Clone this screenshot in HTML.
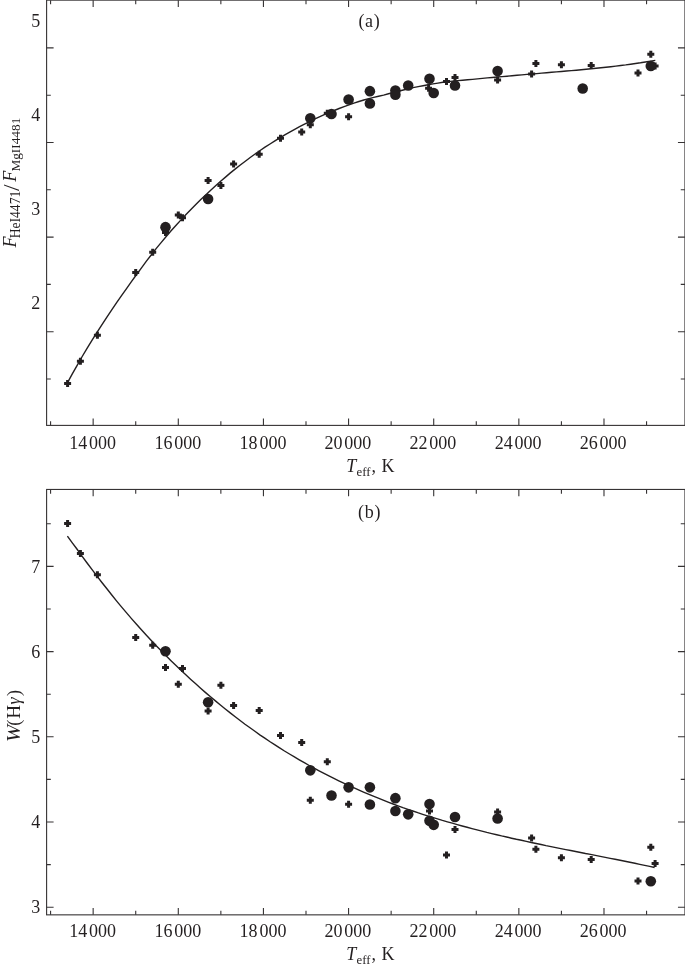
<!DOCTYPE html>
<html lang="en"><head><meta charset="utf-8"><title>Figure</title>
<style>html,body{margin:0;padding:0;background:#fff}svg{display:block}text{font-family:"Liberation Serif","Times New Roman",serif;font-size:18px;fill:#231f20}</style></head><body>
<svg width="685" height="970" viewBox="0 0 685 970">
<rect width="685" height="970" fill="#fff"/>
<rect x="46.6" y="0.15" width="638.35" height="425.25" fill="none" stroke="#363334" stroke-width="1.1"/>
<path d="M50.58,0.15v4.2M50.58,425.4v-4.2M93.15,0.15v6.8M93.15,425.4v-6.8M135.72,0.15v4.2M135.72,425.4v-4.2M178.29,0.15v6.8M178.29,425.4v-6.8M220.86,0.15v4.2M220.86,425.4v-4.2M263.43,0.15v6.8M263.43,425.4v-6.8M306.00,0.15v4.2M306.00,425.4v-4.2M348.57,0.15v6.8M348.57,425.4v-6.8M391.14,0.15v4.2M391.14,425.4v-4.2M433.71,0.15v6.8M433.71,425.4v-6.8M476.28,0.15v4.2M476.28,425.4v-4.2M518.85,0.15v6.8M518.85,425.4v-6.8M561.42,0.15v4.2M561.42,425.4v-4.2M603.99,0.15v6.8M603.99,425.4v-6.8M646.56,0.15v4.2M646.56,425.4v-4.2M46.6,47.90h7M684.95,47.90h-7M46.6,95.20h4.2M684.95,95.20h-4.2M46.6,142.50h7M684.95,142.50h-7M46.6,189.80h4.2M684.95,189.80h-4.2M46.6,237.10h7M684.95,237.10h-7M46.6,284.40h4.2M684.95,284.40h-4.2M46.6,331.70h7M684.95,331.70h-7M46.6,379.00h4.2M684.95,379.00h-4.2" fill="none" stroke="#363334" stroke-width="1.1"/>
<path d="M67.4,382.8 L72.3,373.8 L77.3,365.1 L82.2,356.5 L87.2,348.2 L92.1,340.2 L97.0,332.4 L102.0,324.7 L106.9,317.1 L111.9,309.7 L116.8,302.4 L121.7,295.3 L126.7,288.3 L131.6,281.4 L136.6,274.5 L141.5,267.8 L146.4,261.2 L151.4,254.7 L156.3,248.4 L161.3,242.4 L166.2,236.5 L171.1,230.8 L176.1,225.3 L181.0,219.9 L186.0,214.6 L190.9,209.5 L195.8,204.5 L200.8,199.6 L205.7,194.9 L210.7,190.2 L215.6,185.7 L220.6,181.3 L225.5,177.1 L230.4,172.9 L235.4,168.9 L240.3,165.0 L245.3,161.2 L250.2,157.5 L255.1,154.0 L260.1,150.5 L265.0,147.2 L270.0,144.0 L274.9,140.9 L279.8,137.8 L284.8,134.9 L289.7,132.1 L294.7,129.3 L299.6,126.7 L304.5,124.1 L309.5,121.6 L314.4,119.2 L319.4,116.9 L324.3,114.7 L329.2,112.5 L334.2,110.5 L339.1,108.5 L344.1,106.7 L349.0,104.9 L353.9,103.1 L358.9,101.5 L363.8,100.0 L368.8,98.6 L373.7,97.4 L378.6,96.3 L383.6,95.1 L388.5,93.8 L393.5,92.5 L398.4,91.2 L403.3,90.0 L408.3,88.8 L413.2,87.6 L418.2,86.6 L423.1,85.7 L428.0,84.8 L433.0,83.9 L437.9,83.1 L442.9,82.3 L447.8,81.6 L452.7,81.1 L457.7,80.6 L462.6,80.2 L467.6,79.8 L472.5,79.4 L477.4,78.9 L482.4,78.4 L487.3,77.9 L492.3,77.5 L497.2,77.0 L502.1,76.6 L507.1,76.2 L512.0,75.7 L517.0,75.3 L521.9,74.9 L526.9,74.4 L531.8,74.0 L536.7,73.6 L541.7,73.1 L546.6,72.7 L551.6,72.3 L556.5,71.9 L561.4,71.5 L566.4,71.0 L571.3,70.6 L576.3,70.2 L581.2,69.7 L586.1,69.3 L591.1,68.8 L596.0,68.3 L601.0,67.8 L605.9,67.3 L610.8,66.7 L615.8,66.1 L620.7,65.5 L625.7,64.9 L630.6,64.2 L635.5,63.5 L640.5,62.8 L645.4,62.0 L650.4,61.2 L655.3,60.4" fill="none" stroke="#231f20" stroke-width="1.4"/>
<path d="M64.1,382.0h2v-2h3v2h2v3h-2v2h-3v-2h-2zM76.9,359.7h2v-2h3v2h2v3h-2v2h-3v-2h-2zM93.9,333.8h2v-2h3v2h2v3h-2v2h-3v-2h-2zM132.2,270.9h2v-2h3v2h2v3h-2v2h-3v-2h-2zM149.2,250.7h2v-2h3v2h2v3h-2v2h-3v-2h-2zM162.0,231.0h2v-2h3v2h2v3h-2v2h-3v-2h-2zM174.8,213.5h2v-2h3v2h2v3h-2v2h-3v-2h-2zM179.0,216.2h2v-2h3v2h2v3h-2v2h-3v-2h-2zM204.6,178.9h2v-2h3v2h2v3h-2v2h-3v-2h-2zM217.4,184.1h2v-2h3v2h2v3h-2v2h-3v-2h-2zM230.1,162.4h2v-2h3v2h2v3h-2v2h-3v-2h-2zM255.7,152.7h2v-2h3v2h2v3h-2v2h-3v-2h-2zM277.0,136.8h2v-2h3v2h2v3h-2v2h-3v-2h-2zM298.2,130.6h2v-2h3v2h2v3h-2v2h-3v-2h-2zM306.8,123.2h2v-2h3v2h2v3h-2v2h-3v-2h-2zM323.8,111.8h2v-2h3v2h2v3h-2v2h-3v-2h-2zM345.1,115.2h2v-2h3v2h2v3h-2v2h-3v-2h-2zM425.1,86.7h2v-2h3v2h2v3h-2v2h-3v-2h-2zM443.0,80.0h2v-2h3v2h2v3h-2v2h-3v-2h-2zM451.5,75.9h2v-2h3v2h2v3h-2v2h-3v-2h-2zM494.1,78.6h2v-2h3v2h2v3h-2v2h-3v-2h-2zM528.1,72.5h2v-2h3v2h2v3h-2v2h-3v-2h-2zM532.4,62.1h2v-2h3v2h2v3h-2v2h-3v-2h-2zM557.9,63.2h2v-2h3v2h2v3h-2v2h-3v-2h-2zM587.7,64.0h2v-2h3v2h2v3h-2v2h-3v-2h-2zM634.5,71.6h2v-2h3v2h2v3h-2v2h-3v-2h-2zM647.3,52.8h2v-2h3v2h2v3h-2v2h-3v-2h-2zM651.6,64.4h2v-2h3v2h2v3h-2v2h-3v-2h-2z" fill="#231f20"/>
<circle cx="165.5" cy="227.15" r="5.3" fill="#231f20"/>
<circle cx="208.1" cy="199.05" r="5.3" fill="#231f20"/>
<circle cx="310.3" cy="118.35" r="5.3" fill="#231f20"/>
<circle cx="331.5" cy="114.05" r="5.3" fill="#231f20"/>
<circle cx="348.6" cy="99.45" r="5.3" fill="#231f20"/>
<circle cx="369.9" cy="91.15" r="5.3" fill="#231f20"/>
<circle cx="369.9" cy="103.45" r="5.3" fill="#231f20"/>
<circle cx="395.4" cy="90.55" r="5.3" fill="#231f20"/>
<circle cx="395.4" cy="94.65" r="5.3" fill="#231f20"/>
<circle cx="408.2" cy="85.45" r="5.3" fill="#231f20"/>
<circle cx="429.5" cy="78.75" r="5.3" fill="#231f20"/>
<circle cx="433.7" cy="92.95" r="5.3" fill="#231f20"/>
<circle cx="455.0" cy="85.45" r="5.3" fill="#231f20"/>
<circle cx="497.6" cy="71.05" r="5.3" fill="#231f20"/>
<circle cx="582.7" cy="88.45" r="5.3" fill="#231f20"/>
<circle cx="650.8" cy="66.05" r="5.3" fill="#231f20"/>
<text x="40.3" y="26.6" text-anchor="end">5</text>
<text x="40.3" y="120.7" text-anchor="end">4</text>
<text x="40.3" y="214.7" text-anchor="end">3</text>
<text x="40.3" y="309.1" text-anchor="end">2</text>
<text x="92.7" y="449.3" text-anchor="middle">14<tspan dx="1.8">000</tspan></text>
<text x="177.8" y="449.3" text-anchor="middle">16<tspan dx="1.8">000</tspan></text>
<text x="263.0" y="449.3" text-anchor="middle">18<tspan dx="1.8">000</tspan></text>
<text x="347.8" y="449.3" text-anchor="middle">20<tspan dx="1.8">000</tspan></text>
<text x="432.9" y="449.3" text-anchor="middle">22<tspan dx="1.8">000</tspan></text>
<text x="518.1" y="449.3" text-anchor="middle">24<tspan dx="1.8">000</tspan></text>
<text x="603.2" y="449.3" text-anchor="middle">26<tspan dx="1.8">000</tspan></text>
<text x="346.3" y="472.0"><tspan font-style="italic">T</tspan><tspan font-size="12.8" dy="4" dx="0.3">eff</tspan><tspan dy="-4" dx="0.9">,</tspan><tspan dx="5.4">K</tspan></text>
<text x="369.5" y="26.6" text-anchor="middle" letter-spacing="0.75">(a)</text>
<text transform="translate(15.8,247.5) rotate(-90)"><tspan font-style="italic" x="0" y="0">F</tspan><tspan font-size="13.6" x="9.2" y="4">HeI4471</tspan><tspan font-size="23.5" x="56.6" y="3.5">/</tspan><tspan font-style="italic" x="65.7" y="0">F</tspan><tspan font-size="13.3" x="75.9" y="4">MgII4481</tspan></text>
<rect x="46.6" y="489.45" width="638.35" height="425.40000000000003" fill="none" stroke="#363334" stroke-width="1.1"/>
<path d="M50.58,489.45v4.2M50.58,914.85v-4.2M93.15,489.45v6.8M93.15,914.85v-6.8M135.72,489.45v4.2M135.72,914.85v-4.2M178.29,489.45v6.8M178.29,914.85v-6.8M220.86,489.45v4.2M220.86,914.85v-4.2M263.43,489.45v6.8M263.43,914.85v-6.8M306.00,489.45v4.2M306.00,914.85v-4.2M348.57,489.45v6.8M348.57,914.85v-6.8M391.14,489.45v4.2M391.14,914.85v-4.2M433.71,489.45v6.8M433.71,914.85v-6.8M476.28,489.45v4.2M476.28,914.85v-4.2M518.85,489.45v6.8M518.85,914.85v-6.8M561.42,489.45v4.2M561.42,914.85v-4.2M603.99,489.45v6.8M603.99,914.85v-6.8M646.56,489.45v4.2M646.56,914.85v-4.2M46.6,907.20h7M684.95,907.20h-7M46.6,864.60h4.2M684.95,864.60h-4.2M46.6,822.00h7M684.95,822.00h-7M46.6,779.40h4.2M684.95,779.40h-4.2M46.6,736.80h7M684.95,736.80h-7M46.6,694.20h4.2M684.95,694.20h-4.2M46.6,651.60h7M684.95,651.60h-7M46.6,609.00h4.2M684.95,609.00h-4.2M46.6,566.40h7M684.95,566.40h-7M46.6,523.80h4.2M684.95,523.80h-4.2" fill="none" stroke="#363334" stroke-width="1.1"/>
<path d="M67.4,536.1 L72.3,542.8 L77.3,549.5 L82.2,556.3 L87.1,563.0 L92.1,569.6 L97.0,576.1 L101.9,582.5 L106.9,588.8 L111.8,595.0 L116.7,601.1 L121.7,607.1 L126.6,612.9 L131.5,618.6 L136.5,624.3 L141.4,629.8 L146.4,635.2 L151.3,640.5 L156.2,645.7 L161.2,650.8 L166.1,655.8 L171.0,660.7 L176.0,665.5 L180.9,670.2 L185.8,674.8 L190.8,679.4 L195.7,683.8 L200.6,688.2 L205.6,692.6 L210.5,696.8 L215.4,700.9 L220.4,705.0 L225.3,709.0 L230.2,712.9 L235.2,716.8 L240.1,720.5 L245.0,724.2 L250.0,727.8 L254.9,731.3 L259.8,734.8 L264.8,738.1 L269.7,741.5 L274.6,744.7 L279.6,747.9 L284.5,751.0 L289.5,754.0 L294.4,756.9 L299.3,759.8 L304.3,762.7 L309.2,765.5 L314.1,768.2 L319.1,770.8 L324.0,773.4 L328.9,775.9 L333.9,778.4 L338.8,780.8 L343.7,783.2 L348.7,785.5 L353.6,787.7 L358.5,789.9 L363.5,792.1 L368.4,794.2 L373.3,796.2 L378.3,798.2 L383.2,800.2 L388.1,802.1 L393.1,804.0 L398.0,805.8 L402.9,807.6 L407.9,809.3 L412.8,811.0 L417.7,812.7 L422.7,814.3 L427.6,815.9 L432.5,817.4 L437.5,818.9 L442.4,820.4 L447.4,821.8 L452.3,823.2 L457.2,824.6 L462.2,826.0 L467.1,827.3 L472.0,828.6 L477.0,829.9 L481.9,831.1 L486.8,832.4 L491.8,833.6 L496.7,834.7 L501.6,835.9 L506.6,837.0 L511.5,838.2 L516.4,839.3 L521.4,840.3 L526.3,841.4 L531.2,842.5 L536.2,843.5 L541.1,844.5 L546.0,845.6 L551.0,846.6 L555.9,847.6 L560.8,848.6 L565.8,849.6 L570.7,850.5 L575.6,851.5 L580.6,852.5 L585.5,853.5 L590.5,854.4 L595.4,855.4 L600.3,856.4 L605.3,857.4 L610.2,858.4 L615.1,859.3 L620.1,860.3 L625.0,861.3 L629.9,862.3 L634.9,863.3 L639.8,864.4 L644.7,865.4 L649.7,866.4 L654.6,867.5" fill="none" stroke="#231f20" stroke-width="1.4"/>
<path d="M64.1,522.0h2v-2h3v2h2v3h-2v2h-3v-2h-2zM76.9,551.9h2v-2h3v2h2v3h-2v2h-3v-2h-2zM93.9,573.3h2v-2h3v2h2v3h-2v2h-3v-2h-2zM132.2,636.1h2v-2h3v2h2v3h-2v2h-3v-2h-2zM149.2,643.7h2v-2h3v2h2v3h-2v2h-3v-2h-2zM162.0,666.0h2v-2h3v2h2v3h-2v2h-3v-2h-2zM174.8,682.8h2v-2h3v2h2v3h-2v2h-3v-2h-2zM179.0,666.9h2v-2h3v2h2v3h-2v2h-3v-2h-2zM204.6,709.5h2v-2h3v2h2v3h-2v2h-3v-2h-2zM217.4,683.8h2v-2h3v2h2v3h-2v2h-3v-2h-2zM230.1,704.1h2v-2h3v2h2v3h-2v2h-3v-2h-2zM255.7,709.1h2v-2h3v2h2v3h-2v2h-3v-2h-2zM277.0,734.1h2v-2h3v2h2v3h-2v2h-3v-2h-2zM298.2,740.9h2v-2h3v2h2v3h-2v2h-3v-2h-2zM306.8,798.8h2v-2h3v2h2v3h-2v2h-3v-2h-2zM323.8,760.3h2v-2h3v2h2v3h-2v2h-3v-2h-2zM345.1,802.8h2v-2h3v2h2v3h-2v2h-3v-2h-2zM426.0,809.4h2v-2h3v2h2v3h-2v2h-3v-2h-2zM443.0,853.6h2v-2h3v2h2v3h-2v2h-3v-2h-2zM451.5,828.1h2v-2h3v2h2v3h-2v2h-3v-2h-2zM494.1,810.4h2v-2h3v2h2v3h-2v2h-3v-2h-2zM528.1,836.6h2v-2h3v2h2v3h-2v2h-3v-2h-2zM532.4,847.8h2v-2h3v2h2v3h-2v2h-3v-2h-2zM557.9,856.3h2v-2h3v2h2v3h-2v2h-3v-2h-2zM587.7,857.9h2v-2h3v2h2v3h-2v2h-3v-2h-2zM634.5,879.6h2v-2h3v2h2v3h-2v2h-3v-2h-2zM647.3,845.8h2v-2h3v2h2v3h-2v2h-3v-2h-2zM651.6,861.9h2v-2h3v2h2v3h-2v2h-3v-2h-2z" fill="#231f20"/>
<circle cx="165.5" cy="651.25" r="5.3" fill="#231f20"/>
<circle cx="208.1" cy="702.25" r="5.3" fill="#231f20"/>
<circle cx="310.3" cy="770.35" r="5.3" fill="#231f20"/>
<circle cx="331.5" cy="795.55" r="5.3" fill="#231f20"/>
<circle cx="348.6" cy="787.35" r="5.3" fill="#231f20"/>
<circle cx="369.9" cy="787.35" r="5.3" fill="#231f20"/>
<circle cx="369.9" cy="804.45" r="5.3" fill="#231f20"/>
<circle cx="395.4" cy="798.15" r="5.3" fill="#231f20"/>
<circle cx="395.4" cy="810.95" r="5.3" fill="#231f20"/>
<circle cx="408.2" cy="814.35" r="5.3" fill="#231f20"/>
<circle cx="429.5" cy="804.05" r="5.3" fill="#231f20"/>
<circle cx="429.5" cy="820.85" r="5.3" fill="#231f20"/>
<circle cx="433.7" cy="824.85" r="5.3" fill="#231f20"/>
<circle cx="455.0" cy="816.95" r="5.3" fill="#231f20"/>
<circle cx="497.6" cy="818.55" r="5.3" fill="#231f20"/>
<circle cx="650.8" cy="881.25" r="5.3" fill="#231f20"/>
<text x="40.3" y="572.5" text-anchor="end">7</text>
<text x="40.3" y="657.7" text-anchor="end">6</text>
<text x="40.3" y="742.9" text-anchor="end">5</text>
<text x="40.3" y="828.1" text-anchor="end">4</text>
<text x="40.3" y="913.3" text-anchor="end">3</text>
<text x="92.7" y="936.9" text-anchor="middle">14<tspan dx="1.8">000</tspan></text>
<text x="177.8" y="936.9" text-anchor="middle">16<tspan dx="1.8">000</tspan></text>
<text x="263.0" y="936.9" text-anchor="middle">18<tspan dx="1.8">000</tspan></text>
<text x="347.8" y="936.9" text-anchor="middle">20<tspan dx="1.8">000</tspan></text>
<text x="432.9" y="936.9" text-anchor="middle">22<tspan dx="1.8">000</tspan></text>
<text x="518.1" y="936.9" text-anchor="middle">24<tspan dx="1.8">000</tspan></text>
<text x="603.2" y="936.9" text-anchor="middle">26<tspan dx="1.8">000</tspan></text>
<text x="346.3" y="959.7"><tspan font-style="italic">T</tspan><tspan font-size="12.8" dy="4" dx="0.3">eff</tspan><tspan dy="-4" dx="0.9">,</tspan><tspan dx="5.4">K</tspan></text>
<text x="369.6" y="518.4" text-anchor="middle" letter-spacing="0.75">(b)</text>
<text transform="translate(20.1,741.9) rotate(-90)"><tspan font-style="italic" x="0" textLength="17.25" lengthAdjust="spacingAndGlyphs">W</tspan><tspan x="16.2">(</tspan><tspan x="23.2" textLength="13.8" lengthAdjust="spacingAndGlyphs">H</tspan><tspan font-style="italic" x="37.5">γ</tspan><tspan x="45.9">)</tspan></text>
</svg></body></html>
